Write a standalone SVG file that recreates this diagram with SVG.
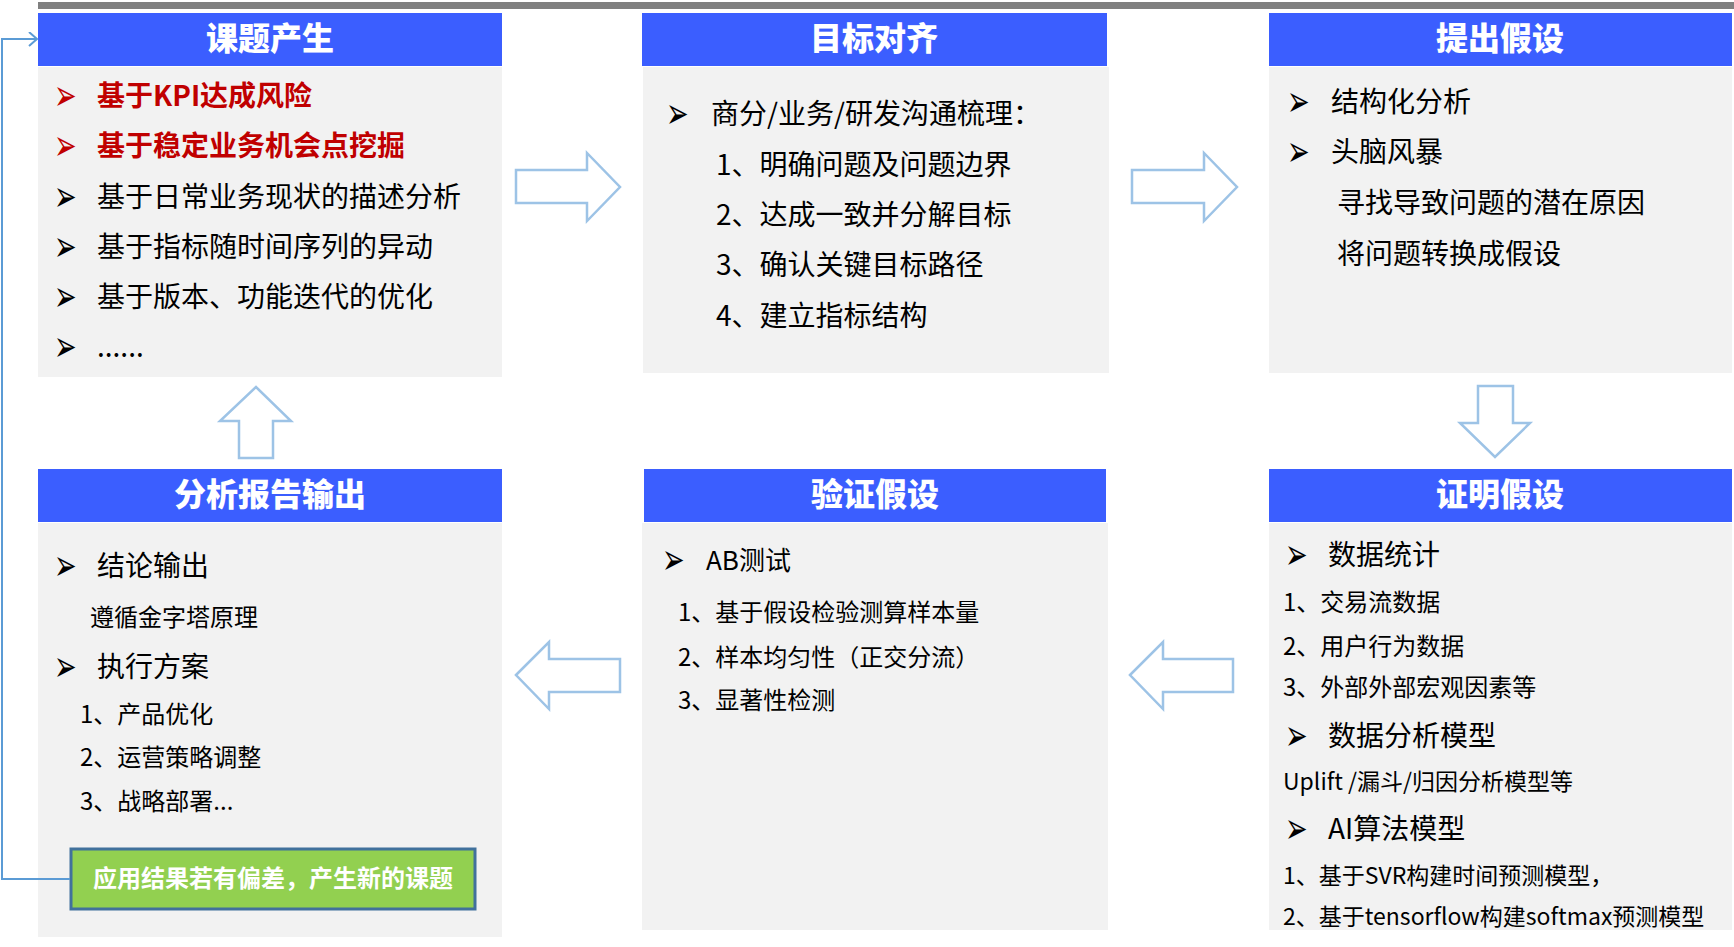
<svg xmlns="http://www.w3.org/2000/svg" width="1734" height="947" viewBox="0 0 1734 947">
<defs>
<style>
.hd{fill:#3B5EFF}
.bd{fill:#F2F2F2}
.ttl{font-family:"Noto Sans CJK SC","Liberation Sans",sans-serif;font-weight:900;font-size:32px;fill:#fff;text-anchor:middle;dominant-baseline:central}
.t28{font-family:"Noto Sans CJK SC","Liberation Sans",sans-serif;font-size:28px;fill:#000;dominant-baseline:central}
.t26{font-family:"Noto Sans CJK SC","Liberation Sans",sans-serif;font-size:26px;fill:#000;dominant-baseline:central}
.t24{font-family:"Noto Sans CJK SC","Liberation Sans",sans-serif;font-size:24px;fill:#000;dominant-baseline:central}
.t23{font-family:"Noto Sans CJK SC","Liberation Sans",sans-serif;font-size:23px;fill:#000;dominant-baseline:central}
.red{fill:#C00000;font-weight:bold}
.blt{font-family:"DejaVu Sans",sans-serif;font-size:27px;fill:#000;dominant-baseline:central}
.rb{fill:#C00000}
.arr{fill:#fff;stroke:#9DC3E6;stroke-width:2.5;stroke-linejoin:miter}
.loop{fill:none;stroke:#5B9BD5;stroke-width:2}
</style>
<marker id="open" markerUnits="userSpaceOnUse" markerWidth="12" markerHeight="16" refX="9" refY="7" orient="auto">
<path d="M1,0 L9,7 L1,14" fill="none" stroke="#5B9BD5" stroke-width="2"/>
</marker>
<clipPath id="clip6"><rect x="1269" y="523" width="463" height="407"/></clipPath>
</defs>
<rect x="38" y="2" width="1696" height="7" fill="#808080"/>

<g id="node-topic">
<rect class="hd" x="38" y="13" width="464" height="53"/>
<rect class="bd" x="38" y="67" width="464" height="310"/>
<text class="ttl" x="270" y="36">课题产生</text>
<text class="blt rb" transform="translate(54,95) scale(1,1.6)">➢</text>
<text class="t28 red" x="97" y="94">基于KPI达成风险</text>
<text class="blt rb" transform="translate(54,145) scale(1,1.6)">➢</text>
<text class="t28 red" x="97" y="144">基于稳定业务机会点挖掘</text>
<text class="blt" transform="translate(54,196) scale(1,1.6)">➢</text>
<text class="t28" x="97" y="195">基于日常业务现状的描述分析</text>
<text class="blt" transform="translate(54,246) scale(1,1.6)">➢</text>
<text class="t28" x="97" y="245">基于指标随时间序列的异动</text>
<text class="blt" transform="translate(54,296) scale(1,1.6)">➢</text>
<text class="t28" x="97" y="295">基于版本、功能迭代的优化</text>
<text class="blt" transform="translate(54,346) scale(1,1.6)">➢</text>
<text class="t28" x="97" y="345">......</text>
</g>

<g id="node-align">
<rect class="hd" x="642" y="13" width="465" height="53"/>
<rect class="bd" x="643" y="67" width="466" height="306"/>
<text class="ttl" x="874" y="36">目标对齐</text>
<text class="blt" transform="translate(666,113) scale(1,1.6)">➢</text>
<text class="t28" x="711" y="112">商分/业务/研发沟通梳理：</text>
<text class="t28" x="716" y="163">1、明确问题及问题边界</text>
<text class="t28" x="716" y="213">2、达成一致并分解目标</text>
<text class="t28" x="716" y="263">3、确认关键目标路径</text>
<text class="t28" x="716" y="314">4、建立指标结构</text>
</g>

<g id="node-hypothesis">
<rect class="hd" x="1269" y="13" width="463" height="53"/>
<rect class="bd" x="1269" y="67" width="463" height="306"/>
<text class="ttl" x="1500" y="36">提出假设</text>
<text class="blt" transform="translate(1287,101) scale(1,1.6)">➢</text>
<text class="t28" x="1331" y="100">结构化分析</text>
<text class="blt" transform="translate(1287,151) scale(1,1.6)">➢</text>
<text class="t28" x="1331" y="150">头脑风暴</text>
<text class="t28" x="1337" y="201">寻找导致问题的潜在原因</text>
<text class="t28" x="1337" y="252">将问题转换成假设</text>
</g>

<g id="node-report">
<rect class="hd" x="38" y="469" width="464" height="53"/>
<rect class="bd" x="38" y="523" width="464" height="414"/>
<text class="ttl" x="270" y="492">分析报告输出</text>
<text class="blt" transform="translate(54,565) scale(1,1.6)">➢</text>
<text class="t28" x="97" y="564">结论输出</text>
<text class="t24" x="90" y="615">遵循金字塔原理</text>
<text class="blt" transform="translate(54,666) scale(1,1.6)">➢</text>
<text class="t28" x="97" y="665">执行方案</text>
<text class="t24" x="80" y="712">1、产品优化</text>
<text class="t24" x="80" y="755">2、运营策略调整</text>
<text class="t24" x="80" y="799">3、战略部署...</text>
</g>

<g id="node-feedback">
<rect x="71" y="849" width="404" height="60" fill="#92D050" stroke="#41719C" stroke-width="3"/>
<text class="t24" x="273" y="876" style="fill:#fff;font-weight:bold;text-anchor:middle">应用结果若有偏差，产生新的课题</text>
</g>

<g id="node-verify">
<rect class="hd" x="644" y="469" width="462" height="53"/>
<rect class="bd" x="642" y="523" width="466" height="407"/>
<text class="ttl" x="875" y="492">验证假设</text>
<text class="blt" transform="translate(662,559) scale(1,1.6)">➢</text>
<text class="t26" x="706" y="558">AB测试</text>
<text class="t24" x="678" y="610">1、基于假设检验测算样本量</text>
<text class="t24" x="678" y="655">2、样本均匀性（正交分流）</text>
<text class="t24" x="678" y="698">3、显著性检测</text>
</g>

<g id="node-prove">
<rect class="hd" x="1269" y="469" width="463" height="53"/>
<rect class="bd" x="1269" y="523" width="463" height="407"/>
<text class="ttl" x="1500" y="492">证明假设</text>
<g clip-path="url(#clip6)">
<text class="blt" transform="translate(1285,554) scale(1,1.6)">➢</text>
<text class="t28" x="1328" y="553">数据统计</text>
<text class="t24" x="1283" y="600">1、交易流数据</text>
<text class="t24" x="1283" y="644">2、用户行为数据</text>
<text class="t24" x="1283" y="685">3、外部外部宏观因素等</text>
<text class="blt" transform="translate(1285,735) scale(1,1.6)">➢</text>
<text class="t28" x="1328" y="734">数据分析模型</text>
<text class="t23" x="1283" y="780">Uplift /漏斗/归因分析模型等</text>
<text class="blt" transform="translate(1285,828) scale(1,1.6)">➢</text>
<text class="t28" x="1328" y="827">AI算法模型</text>
<text class="t23" x="1283" y="874">1、基于SVR构建时间预测模型，</text>
<text class="t23" x="1283" y="915">2、基于tensorflow构建softmax预测模型</text>
</g>
</g>

<g id="connectors">
<polygon class="arr" points="516,170 587,170 587,153 620,187 587,221 587,203 516,203"/>
<polygon class="arr" points="1132,170 1204,170 1204,153 1237,187 1204,221 1204,203 1132,203"/>
<polygon class="arr" points="1478,386 1513,386 1513,423 1530,423 1495,457 1460,423 1478,423"/>
<polygon class="arr" points="1130,675 1163,642 1163,659 1233,659 1233,692 1163,692 1163,709"/>
<polygon class="arr" points="516,675 549,642 549,659 620,659 620,692 549,692 549,709"/>
<polygon class="arr" points="239,458 273,458 273,421 291,421 256,387 220,421 239,421"/>
<polyline class="loop" points="70,879 2,879 2,39 37,39" marker-end="url(#open)"/>
</g>
</svg>
